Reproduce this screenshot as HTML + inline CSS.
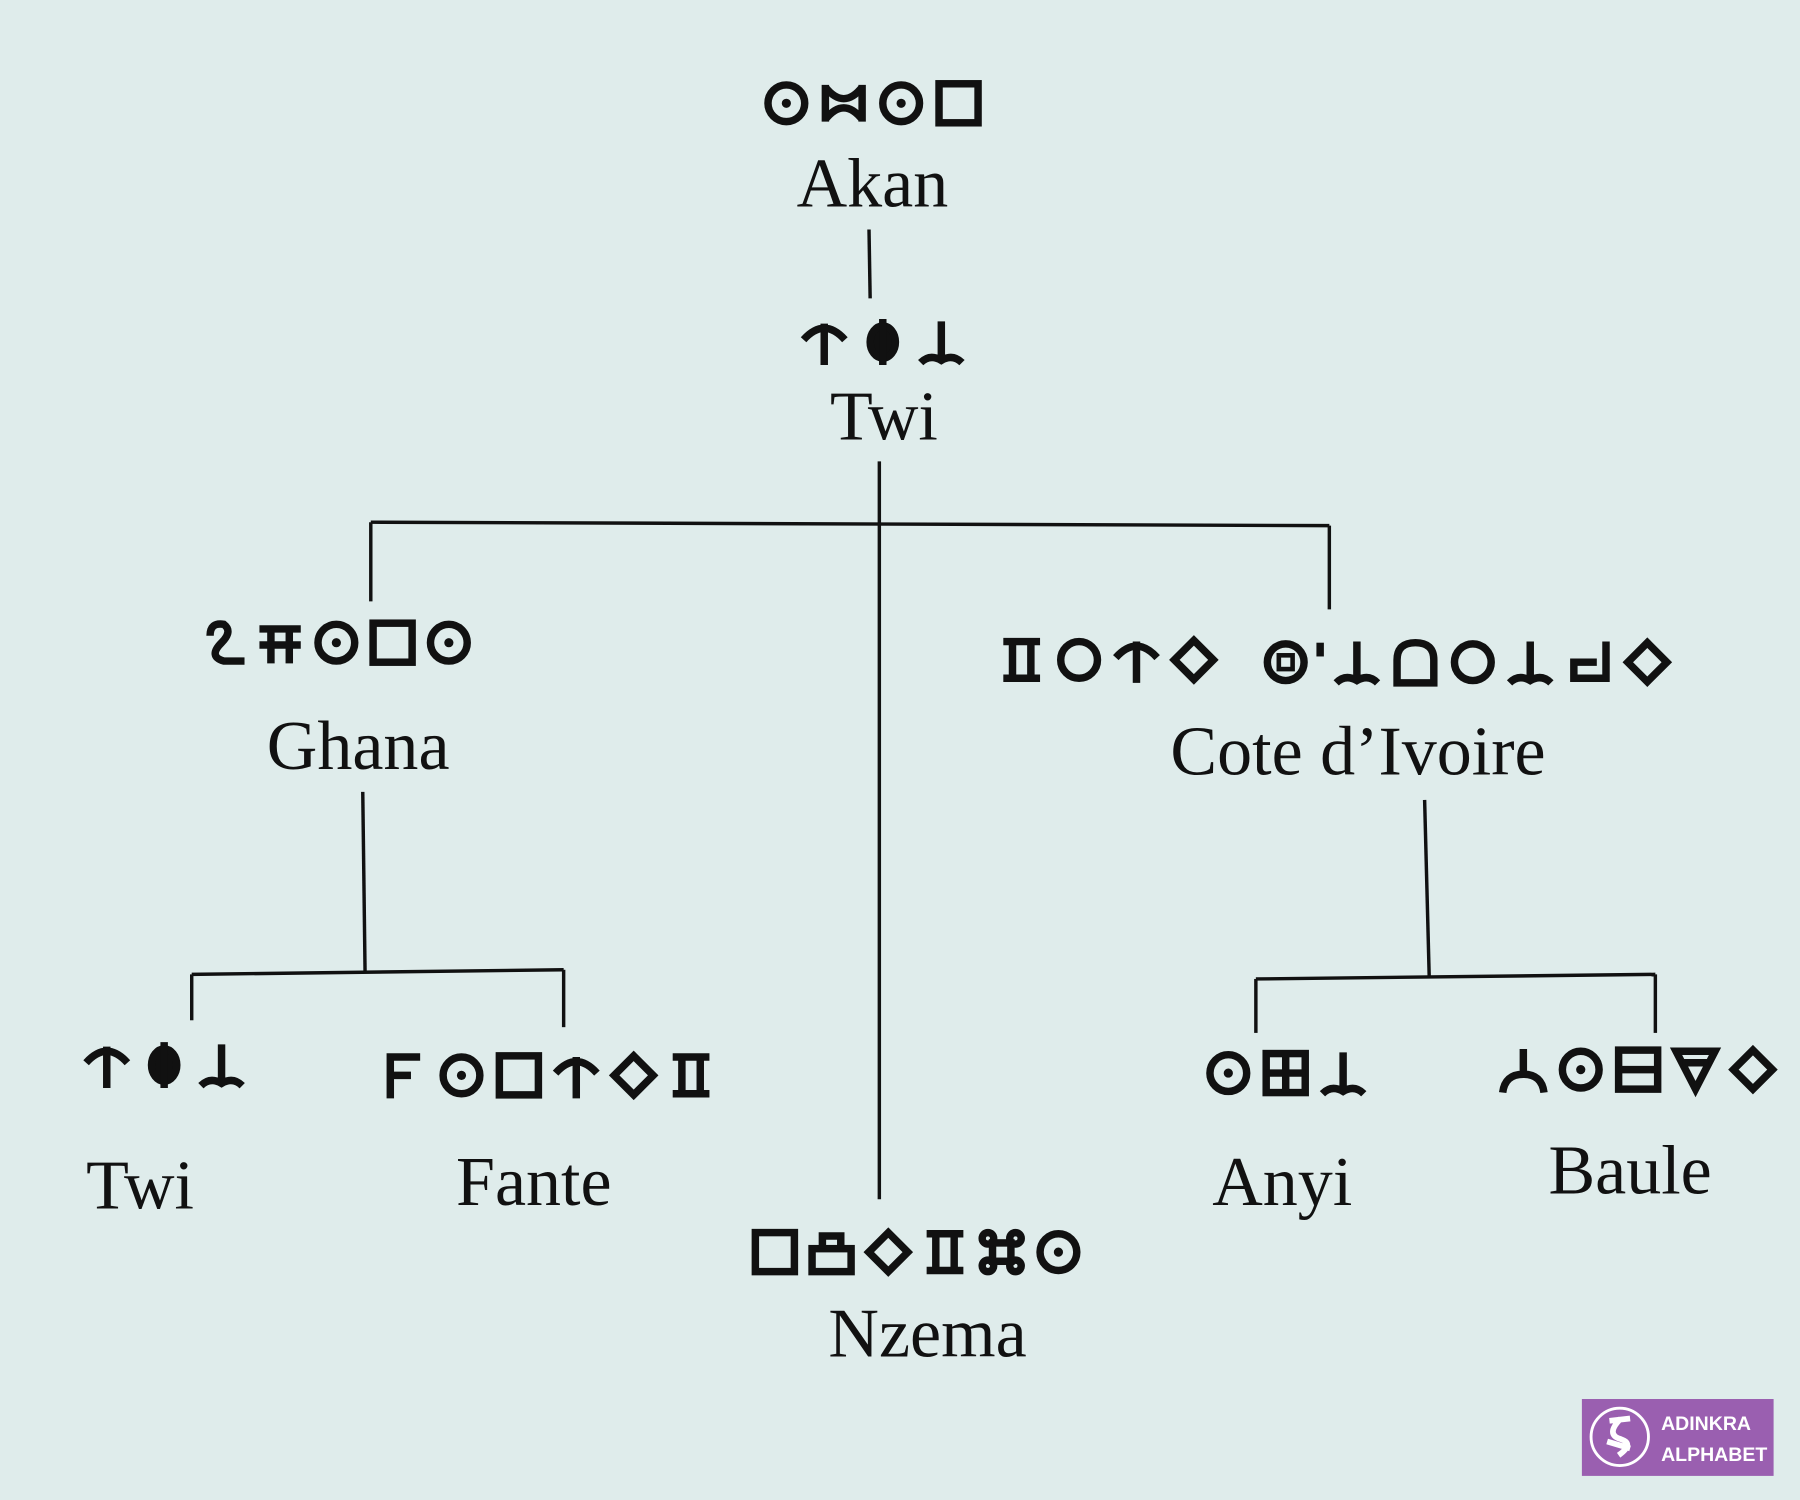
<!DOCTYPE html>
<html><head><meta charset="utf-8"><style>
html,body{margin:0;padding:0;background:#dfeceb;}
svg{display:block}
.sf{font-family:"Liberation Serif",serif;}
.ss{font-family:"Liberation Sans",sans-serif;font-weight:bold;}
</style></head><body>
<svg id="s" width="1800" height="1500" viewBox="0 0 1568 1307" preserveAspectRatio="none" xmlns="http://www.w3.org/2000/svg">
<rect width="1568" height="1307" fill="#dfeceb"/>
<g stroke="#111" stroke-width="3" fill="none">
<line x1="757" y1="200" x2="758" y2="260"/>
<line x1="766" y1="402" x2="766" y2="1045"/>
<line x1="323" y1="455" x2="1158" y2="458"/>
<line x1="323" y1="455" x2="323" y2="524"/>
<line x1="1158" y1="458" x2="1158" y2="531"/>
<line x1="316" y1="690" x2="318" y2="846"/>
<line x1="167" y1="849" x2="491" y2="845"/>
<line x1="167" y1="849" x2="167" y2="889"/>
<line x1="491" y1="845" x2="491" y2="895"/>
<line x1="1241" y1="697" x2="1245" y2="851"/>
<line x1="1094" y1="853" x2="1442" y2="849"/>
<line x1="1094" y1="853" x2="1094" y2="900"/>
<line x1="1442" y1="849" x2="1442" y2="900"/>
</g>
<g class="sf" font-size="61" fill="#111" text-anchor="middle">
<text x="760" y="180">Akan</text>
<text x="770" y="383">Twi</text>
<text x="312" y="670">Ghana</text>
<text x="1183" y="675">Cote d’Ivoire</text>
<text x="122" y="1053">Twi</text>
<text x="465" y="1050">Fante</text>
<text x="808" y="1182">Nzema</text>
<text x="1117" y="1050">Anyi</text>
<text x="1420" y="1040">Baule</text>
</g>
<g id="gl" stroke="#111" stroke-width="6.5" fill="none" stroke-linejoin="miter"></g>
<rect x="1378" y="1219" width="167" height="67" fill="#9a5fb0"/>
<circle cx="1411" cy="1252" r="25" fill="none" stroke="#fff" stroke-width="2.5"/>
<path d="M1402 1238 L1420 1236 M1412 1236 Q1398 1250 1412 1254 Q1424 1258 1410 1268 M1400 1256 L1420 1262" stroke="#fff" stroke-width="5" fill="none"/>
<g fill="#fff" class="ss" font-size="17">
<text class="ss" x="1447" y="1246">ADINKRA</text>
<text class="ss" x="1447" y="1273">ALPHABET</text>
</g>
</svg>
<script>
var G={
cd:'<circle cx="20" cy="20" r="16"/><circle cx="20" cy="20" r="4" fill="#111" stroke="none"/>',
cs:'<circle cx="20" cy="20" r="16"/><rect x="14" y="14" width="12" height="12" stroke-width="4"/>',
ci:'<circle cx="20" cy="20" r="16"/>',
sq:'<rect x="3" y="3" width="34" height="34"/>',
di:'<polygon points="20,3 37,20 20,37 3,20"/>',
bt:'<path d="M4 4V36M36 4V36M4 6Q20 26 36 6M4 34Q20 14 36 34"/>',
up:'<path d="M2 18Q20 -2 38 18M20 4V40"/>',
ph:'<ellipse cx="20" cy="20" rx="11" ry="14" fill="#111"/><path d="M20 0V40"/>',
pp:'<path d="M20 2V34M2 38Q10 30 20 36Q30 30 38 38"/>',
II:'<path d="M4 4H36M4 36H36M12 4V36M28 4V36"/>',
ar:'<path d="M4 38V18Q4 3 20 3Q36 3 36 18V38Z"/>',
hk:'<path d="M34 2V34H6V20H26"/>',
F:'<path d="M8 40V4H34M8 20H26"/>',
lk:'<rect x="3" y="17" width="34" height="20"/><path d="M12 17V6H28V17"/>',
cm:'<rect x="12" y="12" width="16" height="16"/><circle cx="8" cy="8" r="5"/><circle cx="32" cy="8" r="5"/><circle cx="8" cy="32" r="5"/><circle cx="32" cy="32" r="5"/>',
gp:'<rect x="3" y="3" width="34" height="34"/><path d="M20 3V37M3 20H37"/>',
gm:'<rect x="3" y="3" width="34" height="34"/><path d="M3 20H37"/>',
nb:'<polygon points="3,4 37,4 20,37"/><path d="M9 14H31"/>',
la:'<path d="M20 2V24M2 40Q4 24 20 24Q36 24 38 40"/>',
cu:'<path d="M8 14Q8 2 20 4Q28 10 18 20Q6 32 20 36H38"/>',
tt:'<path d="M2 8H38M12 8V38M28 8V38M2 22H38"/>',
ap:'<path d="M5 3V15"/>'
};
var rows=[
[665,70,50,'cd bt cd sq'],
[698,278,51,'up ph pp'],
[175,540,49,'cu tt cd sq cd'],
[870,555,50,'II ci up di'],
[73,908,50,'up ph pp'],
[332,917,50,'F cd sq up di II'],
[655,1071,49.4,'sq lk di II cm cd'],
[1050,915,50,'cd gp pp'],
[1307,912,50,'la cd gm nb di']
];
var h='';
rows.forEach(function(r){r[3].split(' ').forEach(function(c,i){h+='<g transform="translate('+(r[0]+i*r[2])+','+r[1]+')">'+G[c]+'</g>';});});
[[1100,'cs'],[1145,'ap'],[1162,'pp'],[1213,'ar'],[1263,'ci'],[1313,'pp'],[1365,'hk'],[1415,'di']].forEach(function(p){h+='<g transform="translate('+p[0]+',557)">'+G[p[1]]+'</g>';});
document.getElementById('gl').innerHTML=h;
</script>
</body></html>
